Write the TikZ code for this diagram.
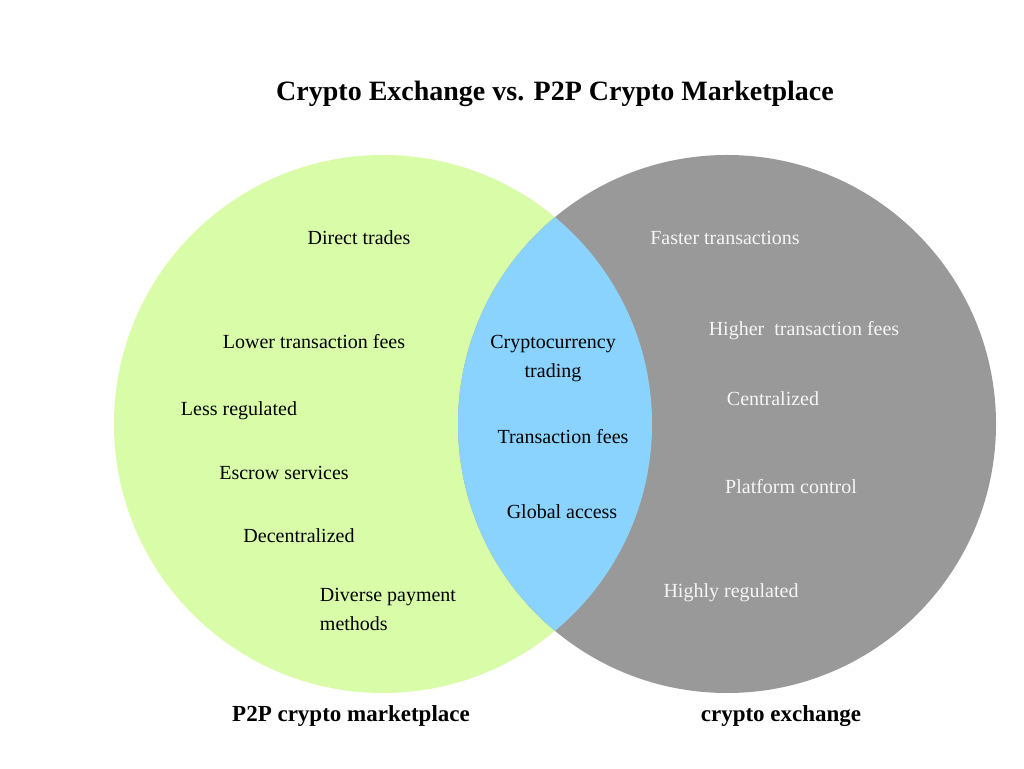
\documentclass[tikz,border=0pt]{standalone}
\usepackage{fontspec}
\setmainfont{Liberation Serif}
\definecolor{pgreen}{RGB}{217,252,169}
\definecolor{xgray}{RGB}{153,153,153}
\definecolor{lensblue}{RGB}{138,211,254}
\definecolor{softwhite}{RGB}{246,246,246}
\tikzset{
  item/.style={inner sep=0pt, font=\fontsize{20}{29}\selectfont},
  witem/.style={item, text=softwhite},
  tag/.style={inner sep=0pt, font=\fontsize{23}{26}\selectfont\bfseries},
}
\begin{document}
\begin{tikzpicture}[x=1pt,y=1pt]
        \useasboundingbox (0,0) rectangle (1024,768);
        \fill[white] (0,0) rectangle (1024,768);
        \fill[pgreen] (383,344) circle (269);
        \fill[xgray] (727,344) circle (269);
        \begin{scope}
          \clip (383,344) circle (269);
          \fill[lensblue] (727,344) circle (269);
        \end{scope}
        \node[tag, font=\fontsize{28}{32}\selectfont\bfseries] (title) at (555,674) {Crypto Exchange vs. P2P Crypto Marketplace};
        % P2P side
        \node[item] (direct) at (359,530) {Direct trades};
        \node[item] (lower) at (314,426) {Lower transaction fees};
        \node[item] (less) at (239,357) {Less regulated};
        \node[item] (escrow) at (284,295) {Escrow services};
        \node[item] (decent) at (299,232) {Decentralized};
        \node[item, align=left] (diverse) at (388,159) {Diverse payment\\methods};
        % shared
        \node[item, align=center] (trading) at (553,409) {Cryptocurrency\\trading};
        \node[item] (fees) at (563,331) {Transaction fees};
        \node[item] (global) at (562,256) {Global access};
        % exchange side
        \node[witem] (faster) at (725,530) {Faster transactions};
        \node[witem] (higher) at (804,437) {Higher\ \ transaction fees};
        \node[witem] (central) at (773,369) {Centralized};
        \node[witem] (platform) at (791,281) {Platform control};
        \node[witem] (highly) at (731,175) {Highly regulated};
        % labels
        \node[tag] (p2p) at (351,52) {P2P crypto marketplace};
        \node[tag] (exch) at (781,52) {crypto exchange};
      \end{tikzpicture}
\end{document}
